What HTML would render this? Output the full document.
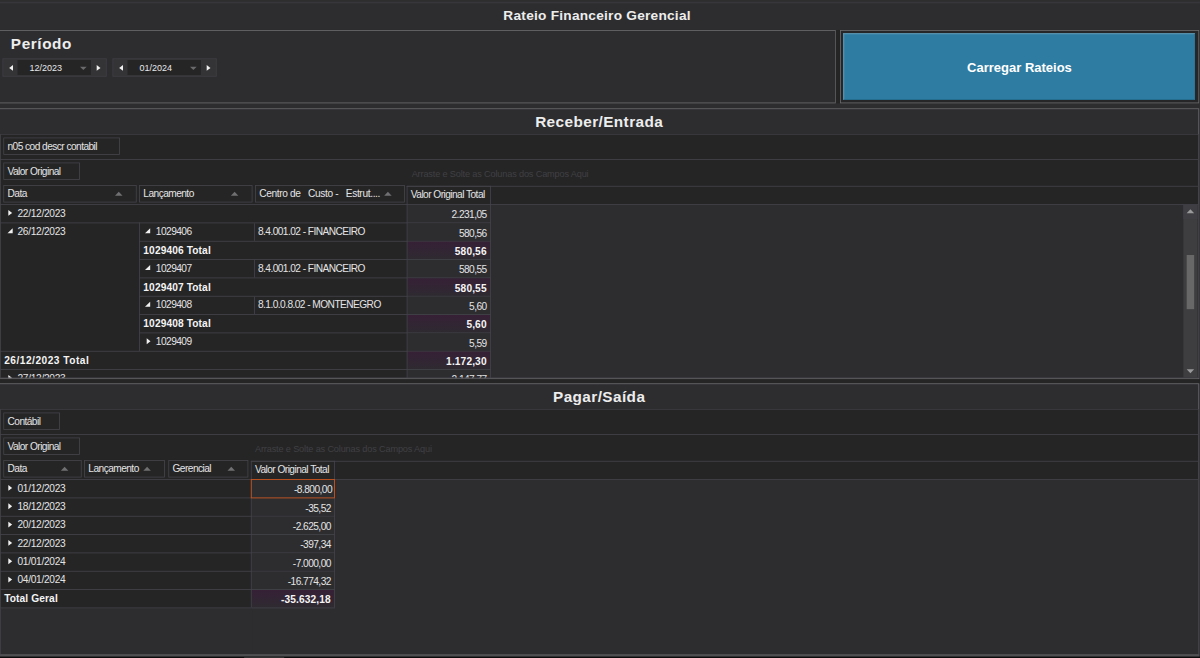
<!DOCTYPE html>
<html lang="pt-BR"><head><meta charset="utf-8"><title>Rateio Financeiro Gerencial</title>
<style>
html,body{margin:0;padding:0;background:#2d2d30;overflow:hidden;}
body{width:1200px;height:658px;position:relative;}
#stage{position:absolute;left:0;top:0;width:1440px;height:790px;transform:scale(0.833333);transform-origin:0 0;background:#2d2d30;
 font-family:"Liberation Sans",sans-serif;font-size:12.2px;letter-spacing:-0.66px;color:#e4e4e4;overflow:hidden;}
#stage div{position:absolute;box-sizing:border-box;white-space:nowrap;}
.b{font-weight:bold;font-size:12.2px;letter-spacing:0.15px;color:#f4f4f4;}
.rh.b{line-height:22.8px;}
.ttl{font-weight:bold;color:#ededed;text-align:center;}
.h{background:#43434a;height:1px;}
.v{background:#43434a;width:1px;}
.fld{border:1px solid #43434a;height:21px;line-height:21.4px;padding-left:4px;background:#252526;}
.cell{height:21px;line-height:24.2px;text-align:right;padding-right:4px;background:#2d2d30;}
.tot{background:linear-gradient(#362036,#2e2a31);}
.rh{height:21px;line-height:21px;}
.d{letter-spacing:-0.36px;}
.bd{letter-spacing:0.6px;}
svg{position:absolute;overflow:visible;}
</style></head>
<body><div id="stage">
<div style="left:0;top:0;width:1440px;height:2px;background:#2e2e2f"></div>
<div style="left:0;top:1.6px;width:1440px;height:2.4px;background:#37373b"></div>
<div class="ttl" style="left:0;top:6.6px;width:1433px;height:22px;line-height:22px;font-size:16.4px;letter-spacing:0.3px">Rateio Financeiro Gerencial</div>
<div style="left:-1px;top:36.2px;width:1004.4px;height:88.3px;border:1px solid #6a6a6c"></div>
<div style="left:1003.4px;top:36.2px;width:4.6px;height:88.3px;background:#252526"></div>
<div style="left:1008px;top:36.2px;width:431px;height:88.3px;border:1px solid #6a6a6c;background:#262527"></div>
<div class="ttl" style="left:1012px;top:40px;width:422px;height:80px;line-height:80px;background:#2e7ca2;border-top:1px solid #6ea7c4;border-left:1px solid #6ea7c4;border-bottom:1px solid #256a8c;border-right:1px solid #2b7497;font-size:15.6px;letter-spacing:0;color:#fff;"><span style="position:relative;top:-0.3px;left:0.4px">Carregar Rateios</span></div>
<div class="ttl" style="left:13px;top:41px;height:24px;line-height:24px;font-size:18.4px;letter-spacing:0.7px;text-align:left">Período</div>
<div style="left:3px;top:70px;width:125px;height:22px;border:1px solid #3d3d42;background:#343436"></div>
<div style="left:21px;top:72px;width:88px;height:18px;background:#252526"></div>
<svg style="left:10.5px;top:77.5px" width="4.6" height="7"><path d="M4.6 0 L0 3.5 L4.6 7 Z" fill="#f0f0f0"/></svg>
<svg style="left:115.5px;top:77.5px" width="4.6" height="7"><path d="M0 0 L4.6 3.5 L0 7 Z" fill="#f0f0f0"/></svg>
<div style="left:35.5px;top:72px;height:18px;line-height:18px;font-size:10.8px;letter-spacing:0;color:#e8e8e8">12/2023</div>
<svg style="left:96px;top:79.5px" width="8" height="4"><path d="M0 0 L8 0 L4.0 4 Z" fill="#6a6a6c"/></svg>
<div style="left:135px;top:70px;width:125px;height:22px;border:1px solid #3d3d42;background:#343436"></div>
<div style="left:153px;top:72px;width:88px;height:18px;background:#252526"></div>
<svg style="left:142.5px;top:77.5px" width="4.6" height="7"><path d="M4.6 0 L0 3.5 L4.6 7 Z" fill="#f0f0f0"/></svg>
<svg style="left:247.5px;top:77.5px" width="4.6" height="7"><path d="M0 0 L4.6 3.5 L0 7 Z" fill="#f0f0f0"/></svg>
<div style="left:167.5px;top:72px;height:18px;line-height:18px;font-size:10.8px;letter-spacing:0;color:#e8e8e8">01/2024</div>
<svg style="left:228px;top:79.5px" width="8" height="4"><path d="M0 0 L8 0 L4.0 4 Z" fill="#6a6a6c"/></svg>
<div style="left:-1px;top:130px;width:1440px;height:325px;border:1px solid #6a6a6c"></div>
<div class="ttl" style="left:0;top:135px;width:1438px;height:24px;line-height:24px;font-size:18.4px;letter-spacing:0.5px">Receber/Entrada</div>
<div style="left:0;top:161px;width:1438px;height:293px;background:#252526;overflow:hidden">
<div style="left:489px;top:85px;width:949px;height:208px;background:#2d2d30"></div>
<div class="h" style="left:0;top:0;width:1438px"></div>
<div class="v" style="left:0;top:0;height:293px"></div>
<div class="fld" style="left:4px;top:4px;width:140px">n05 cod descr contabil</div>
<div class="h" style="left:0;top:30px;width:1438px"></div>
<div class="fld" style="left:4px;top:34px;width:92px">Valor Original</div>
<div style="left:494px;top:38px;height:20px;line-height:20px;font-size:11px;letter-spacing:-0.19px;color:#404043">Arraste e Solte as Colunas dos Campos Aqui</div>
<div class="fld" style="left:4px;top:61px;width:160px">Data</div>
<svg style="left:138px;top:69px" width="9" height="5"><path d="M0 5 L4.5 0 L9 5 Z" fill="#707072"/></svg>
<div class="fld" style="left:167px;top:61px;width:136px">Lançamento</div>
<svg style="left:277px;top:69px" width="9" height="5"><path d="M0 5 L4.5 0 L9 5 Z" fill="#707072"/></svg>
<div class="fld" style="left:306px;top:61px;width:180px"><span style="letter-spacing:-0.42px">Centro de&nbsp;&nbsp; Custo -&nbsp;&nbsp; Estrut....</span></div>
<svg style="left:461px;top:69px" width="9" height="5"><path d="M0 5 L4.5 0 L9 5 Z" fill="#707072"/></svg>
<div style="left:488px;top:61.6px;width:101px;height:23.4px;border:1px solid #43434a;border-bottom:none;line-height:21px;padding-left:4px">Valor Original Total</div>
<div class="h" style="left:488px;top:61.6px;width:950px"></div>
<div class="h" style="left:0;top:84px;width:1438px"></div>
<svg style="left:9.5px;top:91.2px" width="4.6" height="7"><path d="M0 0 L4.6 3.5 L0 7 Z" fill="#f0f0f0"/></svg>
<div class="rh" style="left:21px;top:85px"><span class="d">22/12/2023</span></div>
<div class="cell" style="left:489px;top:85px;width:99px">2.231,05</div>
<div class="h" style="left:0px;top:106px;width:589px"></div>
<svg style="left:8.6px;top:113.2px" width="6.2" height="6"><path d="M6.2 0 L6.2 6 L0 6 Z" fill="#f0f0f0"/></svg>
<div class="rh" style="left:21px;top:107px"><span class="d">26/12/2023</span></div>
<svg style="left:174.4px;top:113.2px" width="6.2" height="6"><path d="M6.2 0 L6.2 6 L0 6 Z" fill="#f0f0f0"/></svg>
<div class="rh" style="left:187px;top:107px">1029406</div>
<div class="rh" style="left:309.5px;top:107px">8.4.001.02 - FINANCEIRO</div>
<div class="cell" style="left:489px;top:107px;width:99px">580,56</div>
<div class="v" style="left:305px;top:107px;height:21px"></div>
<div class="h" style="left:167px;top:128px;width:422px"></div>
<div class="rh b" style="left:172px;top:129px">1029406 Total</div>
<div class="cell tot b" style="left:489px;top:129px;width:99px">580,56</div>
<div class="h" style="left:167px;top:150px;width:422px"></div>
<svg style="left:174.4px;top:157.2px" width="6.2" height="6"><path d="M6.2 0 L6.2 6 L0 6 Z" fill="#f0f0f0"/></svg>
<div class="rh" style="left:187px;top:151px">1029407</div>
<div class="rh" style="left:309.5px;top:151px">8.4.001.02 - FINANCEIRO</div>
<div class="cell" style="left:489px;top:151px;width:99px">580,55</div>
<div class="v" style="left:305px;top:151px;height:21px"></div>
<div class="h" style="left:167px;top:172px;width:422px"></div>
<div class="rh b" style="left:172px;top:173px">1029407 Total</div>
<div class="cell tot b" style="left:489px;top:173px;width:99px">580,55</div>
<div class="h" style="left:167px;top:194px;width:422px"></div>
<svg style="left:174.4px;top:201.2px" width="6.2" height="6"><path d="M6.2 0 L6.2 6 L0 6 Z" fill="#f0f0f0"/></svg>
<div class="rh" style="left:187px;top:195px">1029408</div>
<div class="rh" style="left:309.5px;top:195px">8.1.0.0.8.02 - MONTENEGRO</div>
<div class="cell" style="left:489px;top:195px;width:99px">5,60</div>
<div class="v" style="left:305px;top:195px;height:21px"></div>
<div class="h" style="left:167px;top:216px;width:422px"></div>
<div class="rh b" style="left:172px;top:217px">1029408 Total</div>
<div class="cell tot b" style="left:489px;top:217px;width:99px">5,60</div>
<div class="h" style="left:167px;top:238px;width:422px"></div>
<svg style="left:176px;top:245.2px" width="4.6" height="7"><path d="M0 0 L4.6 3.5 L0 7 Z" fill="#f0f0f0"/></svg>
<div class="rh" style="left:187px;top:239px">1029409</div>
<div class="cell" style="left:489px;top:239px;width:99px">5,59</div>
<div class="h" style="left:0px;top:260px;width:589px"></div>
<div class="rh b" style="left:5px;top:261px"><span class="bd">26/12/2023 Total</span></div>
<div class="cell tot b" style="left:489px;top:261px;width:99px">1.172,30</div>
<div class="h" style="left:0px;top:282px;width:589px"></div>
<svg style="left:9.5px;top:289.2px" width="4.6" height="7"><path d="M0 0 L4.6 3.5 L0 7 Z" fill="#f0f0f0"/></svg>
<div class="rh" style="left:21px;top:283px"><span class="d">27/12/2023</span></div>
<div class="cell" style="left:489px;top:283px;width:99px">2.147,77</div>
<div class="v" style="left:167px;top:106px;height:154px"></div>
<div class="v" style="left:488px;top:84px;height:400px"></div>
<div class="v" style="left:588px;top:84px;height:400px"></div>
<div style="left:1420px;top:85px;width:17.4px;height:207px;background:#3e3e40"></div>
<div style="left:1420px;top:85px;width:17.4px;height:17px;background:#3f3f43"></div>
<svg style="left:1423.5px;top:90px" width="9" height="5"><path d="M0 5 L4.5 0 L9 5 Z" fill="#9a9a9c"/></svg>
<div style="left:1424px;top:145px;width:9px;height:65px;background:#686868"></div>
<svg style="left:1423.5px;top:281.5px" width="9" height="5"><path d="M0 0 L9 0 L4.5 5 Z" fill="#9a9a9c"/></svg>
<div class="h" style="left:0;top:292px;width:1438px"></div>
</div>
<div style="left:0;top:453.6px;width:1439px;height:1.7px;background:#606062"></div>
<div style="left:0;top:455px;width:1440px;height:5px;background:#252526"></div>
<div style="left:-1px;top:460px;width:1440px;height:327px;border:1px solid #6a6a6c"></div>
<div class="ttl" style="left:0;top:465px;width:1438px;height:24px;line-height:24px;font-size:18.4px;letter-spacing:0.5px">Pagar/Saída</div>
<div style="left:0;top:491px;width:1438px;height:295px;background:#252526;overflow:hidden">
<div style="left:302px;top:85px;width:1136px;height:210px;background:#2d2d30"></div>
<div style="left:1px;top:239px;width:302px;height:56px;background:#2d2d30"></div>
<div class="h" style="left:0;top:0;width:1438px"></div>
<div class="v" style="left:0;top:0;height:295px"></div>
<div class="fld" style="left:4px;top:4px;width:68px">Contábil</div>
<div class="h" style="left:0;top:30px;width:1438px"></div>
<div class="fld" style="left:4px;top:34px;width:92px">Valor Original</div>
<div style="left:306px;top:38px;height:20px;line-height:20px;font-size:11px;letter-spacing:-0.19px;color:#404043">Arraste e Solte as Colunas dos Campos Aqui</div>
<div class="fld" style="left:4px;top:61px;width:94px">Data</div>
<svg style="left:73px;top:69px" width="9" height="5"><path d="M0 5 L4.5 0 L9 5 Z" fill="#707072"/></svg>
<div class="fld" style="left:101px;top:61px;width:97px">Lançamento</div>
<svg style="left:172px;top:69px" width="9" height="5"><path d="M0 5 L4.5 0 L9 5 Z" fill="#707072"/></svg>
<div class="fld" style="left:202px;top:61px;width:96px">Gerencial</div>
<svg style="left:273px;top:69px" width="9" height="5"><path d="M0 5 L4.5 0 L9 5 Z" fill="#707072"/></svg>
<div style="left:301px;top:61.6px;width:101px;height:23.4px;border:1px solid #43434a;border-bottom:none;line-height:21px;padding-left:4px">Valor Original Total</div>
<div class="h" style="left:301px;top:61.6px;width:1137px"></div>
<div class="h" style="left:0;top:84px;width:1438px"></div>
<svg style="left:9.5px;top:91.2px" width="4.6" height="7"><path d="M0 0 L4.6 3.5 L0 7 Z" fill="#f0f0f0"/></svg>
<div class="rh d" style="left:21px;top:85px">01/12/2023</div>
<div class="cell" style="left:302px;top:85px;width:99px;padding-right:2.6px">-8.800,00</div>
<div class="h" style="left:0;top:106px;width:402px"></div>
<svg style="left:9.5px;top:113.2px" width="4.6" height="7"><path d="M0 0 L4.6 3.5 L0 7 Z" fill="#f0f0f0"/></svg>
<div class="rh d" style="left:21px;top:107px">18/12/2023</div>
<div class="cell" style="left:302px;top:107px;width:99px">-35,52</div>
<div class="h" style="left:0;top:128px;width:402px"></div>
<svg style="left:9.5px;top:135.2px" width="4.6" height="7"><path d="M0 0 L4.6 3.5 L0 7 Z" fill="#f0f0f0"/></svg>
<div class="rh d" style="left:21px;top:129px">20/12/2023</div>
<div class="cell" style="left:302px;top:129px;width:99px">-2.625,00</div>
<div class="h" style="left:0;top:150px;width:402px"></div>
<svg style="left:9.5px;top:157.2px" width="4.6" height="7"><path d="M0 0 L4.6 3.5 L0 7 Z" fill="#f0f0f0"/></svg>
<div class="rh d" style="left:21px;top:151px">22/12/2023</div>
<div class="cell" style="left:302px;top:151px;width:99px">-397,34</div>
<div class="h" style="left:0;top:172px;width:402px"></div>
<svg style="left:9.5px;top:179.2px" width="4.6" height="7"><path d="M0 0 L4.6 3.5 L0 7 Z" fill="#f0f0f0"/></svg>
<div class="rh d" style="left:21px;top:173px">01/01/2024</div>
<div class="cell" style="left:302px;top:173px;width:99px">-7.000,00</div>
<div class="h" style="left:0;top:194px;width:402px"></div>
<svg style="left:9.5px;top:201.2px" width="4.6" height="7"><path d="M0 0 L4.6 3.5 L0 7 Z" fill="#f0f0f0"/></svg>
<div class="rh d" style="left:21px;top:195px">04/01/2024</div>
<div class="cell" style="left:302px;top:195px;width:99px">-16.774,32</div>
<div class="h" style="left:0;top:216px;width:402px"></div>
<div class="rh b" style="left:5px;top:217px">Total Geral</div>
<div class="cell tot b" style="left:302px;top:217px;width:99px">-35.632,18</div>
<div class="h" style="left:0;top:238px;width:402px"></div>
<div class="v" style="left:301px;top:84px;height:154px"></div>
<div class="v" style="left:401px;top:84px;height:154px"></div>
<div style="left:301px;top:84.4px;width:101px;height:22.2px;border:1.6px solid #cf5319"></div>
<div class="h" style="left:0;top:294px;width:1438px"></div>
</div>
<div style="left:0;top:784.8px;width:1439px;height:3px;background:#505052"></div>
<div style="left:0;top:787.7px;width:1440px;height:3px;background:#0c0c0c"></div>
<div style="left:293px;top:788.5px;width:48px;height:2px;background:#555"></div>
</div></body></html>
